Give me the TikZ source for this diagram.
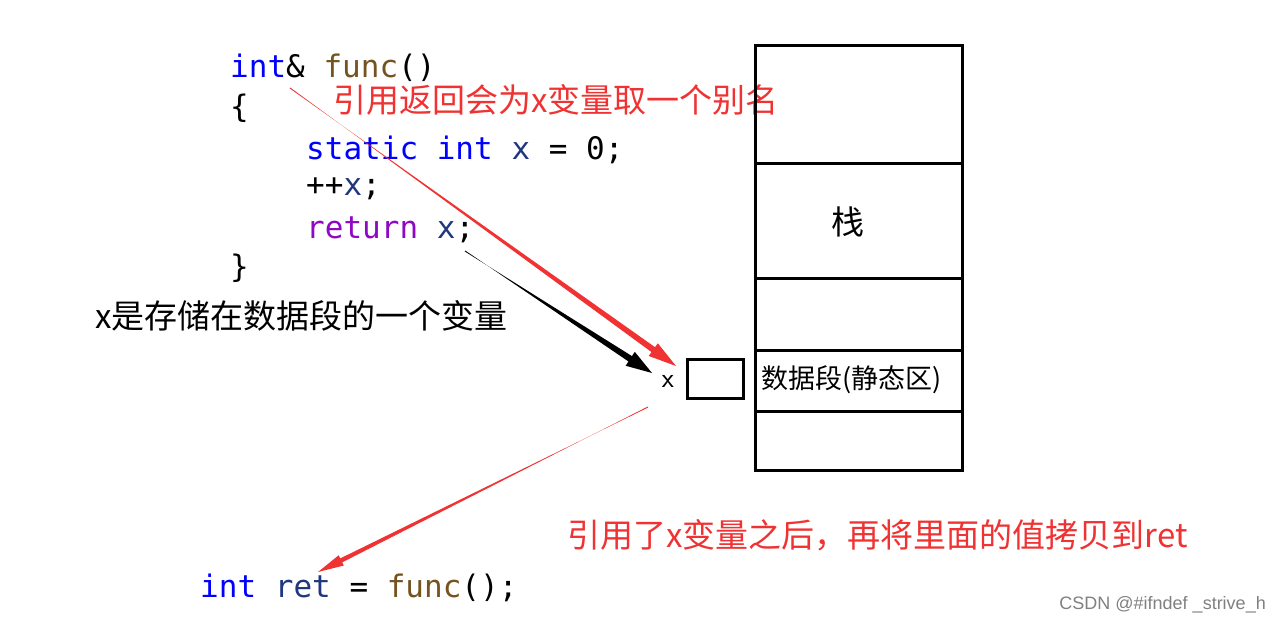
\documentclass[tikz,border=0pt]{standalone}
\usepackage{fontspec}
\setmonofont{DejaVu Sans Mono}
\newfontfamily\cjk{Noto Sans CJK SC}
\usetikzlibrary{calc}
\definecolor{kwblue}{RGB}{0,0,255}
\definecolor{fnbrown}{RGB}{116,83,31}
\definecolor{varblue}{RGB}{31,55,127}
\definecolor{kwpurple}{RGB}{143,8,196}
\definecolor{myred}{RGB}{240,50,50}
\newcommand{\taperarrow}[5]{% from, to, half shaft width, head length, colour
  \coordinate (tpC) at ($(#2)!#4!(#1)$);
  \fill[#5] ($(#1)!0.5pt!90:(#2)$) -- ($(tpC)!#3!-90:(#2)$) -- ($(tpC)!2.6*#3!-90:(#2)$) -- (#2)
    -- ($(tpC)!2.6*#3!90:(#2)$) -- ($(tpC)!#3!90:(#2)$) -- ($(#1)!0.5pt!-90:(#2)$) -- cycle;}
\begin{document}
\begin{tikzpicture}[x=1pt,y=-1pt,
  code/.style={anchor=west,inner sep=0,font=\ttfamily\fontsize{31}{31}\selectfont},
  cn/.style={anchor=west,inner sep=0,font=\cjk\fontsize{33}{33}\selectfont},
  box/.style={draw,line width=3pt}]
\useasboundingbox (0,0) rectangle (1280,623);
\fill[white] (0,0) rectangle (1280,623);
\node[code] (l1) at (230,68) {\textcolor{kwblue}{int}\&\ \textcolor{fnbrown}{func}()};
\node[code] (l2) at (230,108) {\{};
\node[code] (l3) at (306,150) {\textcolor{kwblue}{static int} \textcolor{varblue}{x} = 0;};
\node[code] (l4) at (306,189) {++\textcolor{varblue}{x};};
\node[code] (l5) at (306,230) {\textcolor{kwpurple}{return} \textcolor{varblue}{x};};
\node[code] (l6) at (230,268) {\}};
\node[code] (l7) at (200,588) {\textcolor{kwblue}{int} \textcolor{varblue}{ret} = \textcolor{fnbrown}{func}();};
\node[cn,text=myred] (t1) at (333,100) {引用返回会为x变量取一个别名};
\node[cn] (t2) at (95,316) {x是存储在数据段的一个变量};
\node[cn,text=myred] (t3) at (567,535) {引用了x变量之后，再将里面的值拷贝到ret};
\draw[box] (755,46) rectangle (962,470);
\draw[box] (755,164) -- (962,164) (755,278) -- (962,278) (755,350) -- (962,350) (755,411) -- (962,411);
\node[cn,anchor=center] (zhan) at (848,222) {栈};
\node[cn,font=\cjk\fontsize{27}{27}\selectfont] (ds) at (761,380) {数据段(静态区)};
\node[box,minimum width=56pt,minimum height=39pt,inner sep=0] (xb) at (715,378.5) {};
\node[inner sep=0,font=\sffamily\fontsize{28}{28}\selectfont] (xl) at (668,381) {x};
\node[anchor=east,inner sep=0,text=gray,font=\fontspec{Liberation Sans}\fontsize{18}{18}\selectfont] (wm) at (1266,605) {CSDN @\#ifndef \_strive\_h};
\coordinate (a1s) at (290,88); \coordinate (a1e) at (676,366);
\coordinate (a2s) at (465,251); \coordinate (a2e) at (652,373);
\coordinate (a3s) at (648,407); \coordinate (a3e) at (318,572);
\taperarrow{a2s}{a2e}{3.2pt}{26pt}{black}
\taperarrow{a1s}{a1e}{3pt}{28pt}{myred}
\taperarrow{a3s}{a3e}{2.2pt}{26pt}{myred}
\end{tikzpicture}
\end{document}
